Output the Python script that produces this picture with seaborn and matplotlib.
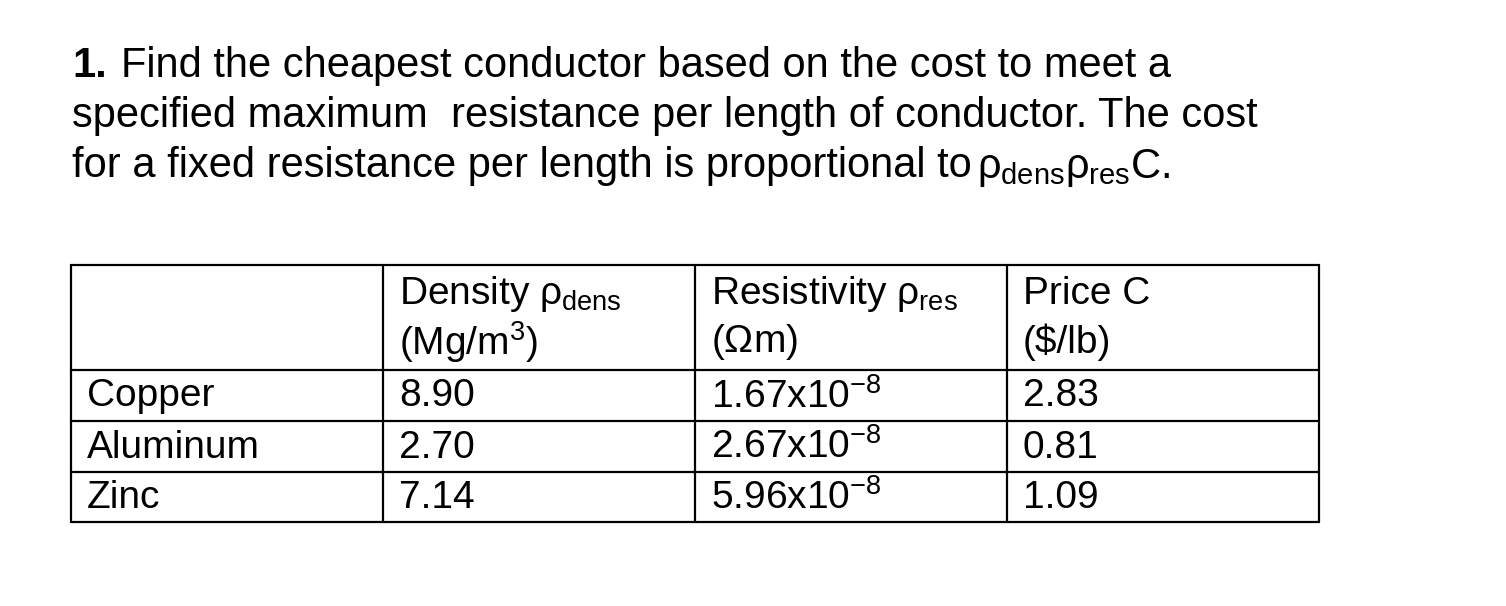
import matplotlib
matplotlib.use("Agg")
import matplotlib.pyplot as plt
import seaborn as sns

sns.set_style("white")
plt.rcParams['font.family'] = ['Liberation Sans', 'DejaVu Sans']
plt.rcParams['mathtext.fontset'] = 'custom'
plt.rcParams['mathtext.rm'] = 'Liberation Sans'
plt.rcParams['mathtext.it'] = 'Liberation Sans'
plt.rcParams['axes.unicode_minus'] = False
plt.rcParams['text.color'] = 'black'

# text content
line1 = "Find the cheapest conductor based on the cost to meet a"
line2 = "specified maximum  resistance per length of conductor. The cost"
line3 = "for a fixed resistance per length is proportional to "
line3_math = r"$\rho_{\mathrm{dens}}\rho_{\mathrm{res}}$C."

header_top = ["", r"Density $\rho_{\mathrm{dens}}$", r"Resistivity $\rho_{\mathrm{res}}$", "Price C"]
header_bot = ["", r"(Mg/m$^{3}$)", r"($\Omega$m)", "($/lb)"]
metals = ["Copper", "Aluminum", "Zinc"]
density = ["8.90", "2.70", "7.14"]
resistivity = [r"1.67x10$^{-8}$", r"2.67x10$^{-8}$", r"5.96x10$^{-8}$"]
price = ["2.83", "0.81", "1.09"]

fig = plt.figure(figsize=(15.06, 6.06), dpi=100)
ax = fig.add_axes([0, 0, 1, 1])
ax.set_xlim(0, 1506)
ax.set_ylim(606, 0)
ax.axis('off')

fs = 30
ax.text(72, 66, "1.", fontsize=fs, fontweight='bold', va='center')
ax.text(121, 66, line1, fontsize=fs, va='center')
ax.text(72, 116, line2, fontsize=fs, va='center')
t = ax.text(72, 166, line3, fontsize=fs, va='center')
fig.canvas.draw()
bb = t.get_window_extent().transformed(ax.transData.inverted())
ax.text(bb.x1 - 6, 168, line3_math, fontsize=fs, va='center')

# table grid
xs = [71, 383, 695, 1007, 1319]
ys = [265, 370, 421, 472, 522]
for x in xs:
    ax.plot([x, x], [ys[0], ys[-1]], color='black', lw=1.6)
for y in ys:
    ax.plot([xs[0], xs[-1]], [y, y], color='black', lw=1.6)

tfs = 28
for i in range(4):
    ax.text(xs[i] + 16, 294, header_top[i], fontsize=tfs, va='center')
    ax.text(xs[i] + 16, 342, header_bot[i], fontsize=tfs, va='center')

cols = [metals, density, resistivity, price]
for r in range(3):
    yc = (ys[r + 1] + ys[r + 2]) / 2 + 1
    for c in range(4):
        ax.text(xs[c] + 16, yc, cols[c][r], fontsize=tfs, va='center')

sns.despine(ax=ax, left=True, bottom=True)
fig.savefig("out.png", dpi=100, facecolor='white')
